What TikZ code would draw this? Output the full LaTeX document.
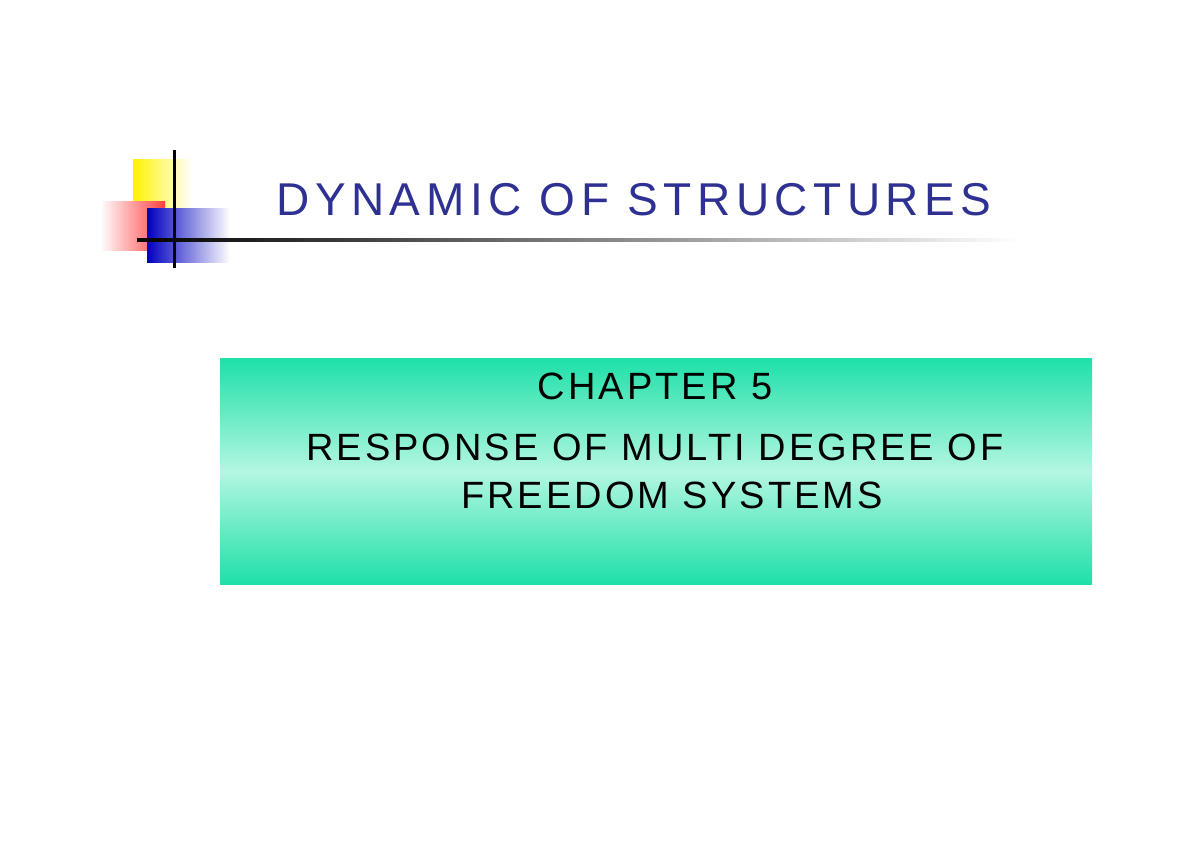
\documentclass[tikz,border=0pt]{standalone}
\usepackage{fontspec}
\setmainfont{Liberation Sans}
\newfontfamily\titlefont[LetterSpace=12]{Liberation Sans}
\newfontfamily\boxfont[LetterSpace=8]{Liberation Sans}
\definecolor{tblue}{HTML}{2E3192}
\definecolor{teal}{HTML}{1EE0A8}
\definecolor{lteal}{HTML}{B4F6E2}
\usetikzlibrary{fadings}
\begin{document}
\begin{tikzpicture}[x=1pt,y=-1pt]
\useasboundingbox (0,0) rectangle (1200,848);
\fill[white] (0,0) rectangle (1200,848);
% logo
\shade[left color=yellow!90!orange,right color=white] (133,160) rectangle (192,214);
\shade[left color=white,right color=red!75] (100,201) rectangle (165,250);
\shade[left color=blue!75!black,right color=white] (147,208) rectangle (230,262);
\draw[line width=3pt] (174,150) -- (174,268);
\shade[left color=black,right color=white] (137,238.5) rectangle (1022,241.5);
\node (title) at (634,200) {\fontsize{46}{50}\selectfont\color{tblue}\titlefont DYNAMIC OF STRUCTURES};
% box
\shade[top color=teal,bottom color=lteal] (220,358) rectangle (1092,472);
\shade[top color=lteal,bottom color=teal] (220,471) rectangle (1092,584);
\node (c1) at (655,386) {\fontsize{38}{42}\selectfont\boxfont CHAPTER 5};
\node (c2) at (655,447) {\fontsize{38}{42}\selectfont\boxfont RESPONSE OF MULTI DEGREE OF};
\node (c3) at (672,495) {\fontsize{38}{42}\selectfont\boxfont FREEDOM SYSTEMS};
\end{tikzpicture}
\end{document}
